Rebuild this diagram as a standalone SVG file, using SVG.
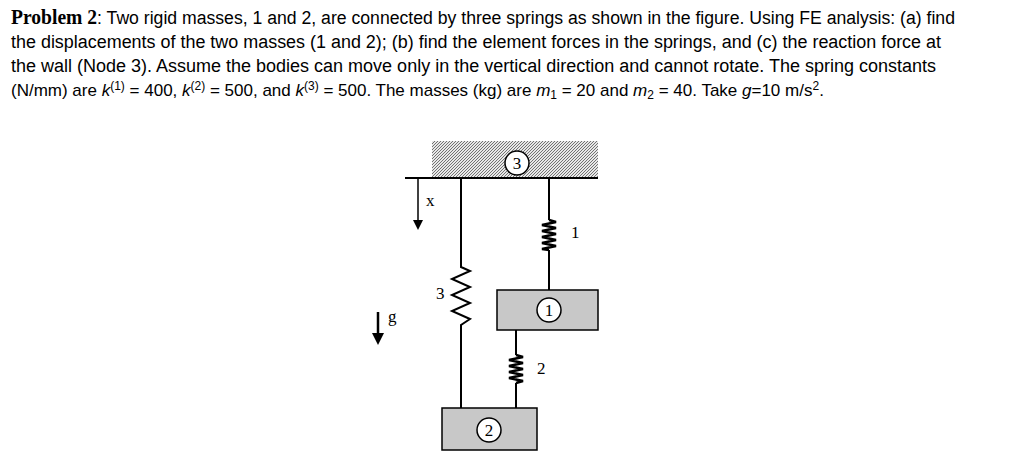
<svg xmlns="http://www.w3.org/2000/svg" width="1024" height="465" viewBox="0 0 1024 465">
<style>
.t{font-family:"Liberation Sans",Arial,sans-serif;font-size:18px;fill:#000}
.s{font-family:"Liberation Serif","Times New Roman",serif;font-size:17px;fill:#000}
.ln{stroke:#000;stroke-width:2;fill:none}
.coil{stroke:#000;stroke-width:2.6;fill:none}
.box{fill:#c8c8c8;stroke:#000;stroke-width:1.5}
.nc{fill:#fff;stroke:#000;stroke-width:1.5}
</style>
<defs>
<pattern id="h" width="3" height="3" patternUnits="userSpaceOnUse"><rect width="3" height="3" fill="#e8e8e8"/><path d="M0,3 L3,0" stroke="#555" stroke-width="0.8"/></pattern>
</defs>
<g id="text">
<text class="t" x="11" y="24" textLength="944" lengthAdjust="spacingAndGlyphs"><tspan style="font-family:'Liberation Serif',serif;font-weight:bold;font-size:20px">Problem 2</tspan>: Two rigid masses, 1 and 2, are connected by three springs as shown in the figure. Using FE analysis:  (a) find</text>
<text class="t" x="11" y="48" textLength="930" lengthAdjust="spacingAndGlyphs">the displacements of the two masses (1 and 2); (b) find the element forces in the springs, and (c) the reaction force at</text>
<text class="t" x="11" y="72" textLength="925" lengthAdjust="spacingAndGlyphs">the wall (Node 3). Assume the bodies can move only in the vertical direction and cannot rotate. The spring constants</text>
<text class="t" x="11" y="96" style="font-size:17px">(N/mm) are <tspan font-style="italic">k</tspan><tspan font-size="12" dy="-6">(1)</tspan><tspan dy="6"> = 400, </tspan><tspan font-style="italic">k</tspan><tspan font-size="12" dy="-6">(2)</tspan><tspan dy="6"> = 500, and </tspan><tspan font-style="italic">k</tspan><tspan font-size="12" dy="-6">(3)</tspan><tspan dy="6"> = 500. The masses (kg) are </tspan><tspan font-style="italic">m</tspan><tspan font-size="12" dy="3">1</tspan><tspan dy="-3"> = 20 and </tspan><tspan font-style="italic">m</tspan><tspan font-size="12" dy="3">2</tspan><tspan dy="-3"> = 40. Take </tspan><tspan font-style="italic">g</tspan>=10 m/s<tspan font-size="12" dy="-6">2</tspan><tspan dy="6">.</tspan></text>
</g>
<g id="wall">
<rect x="432" y="141" width="166" height="37" fill="url(#h)"/>
<line class="ln" x1="405" y1="178" x2="598" y2="178"/>
<circle class="nc" cx="517" cy="163" r="12"/><text class="s" x="517" y="169" text-anchor="middle">3</text>
</g>
<g id="mass1">
<rect class="box" x="497" y="290" width="101" height="40"/>
<circle class="nc" cx="549" cy="310" r="12"/><text class="s" x="549" y="316" text-anchor="middle">1</text>
</g>
<g id="mass2">
<rect class="box" x="442" y="408" width="95" height="42"/>
<circle class="nc" cx="489" cy="430" r="12"/><text class="s" x="489" y="436" text-anchor="middle">2</text>
</g>
<g id="connectors">
<path class="ln" d="M461,178 V267 L470,271 L452,279 L470,287 L452,295 L470,303 L452,311 L470,319 L461,325 V408"/>
<text class="s" x="436" y="299">3</text>
<path class="ln" d="M549,178 V220 M549,250 V290"/>
<path class="coil" d="M549,220 L556,222 L542,225 L556,228 L542,231 L556,234 L542,237 L556,240 L542,243 L556,246 L542,249 L549,250"/>
<text class="s" x="571" y="238">1</text>
<path class="ln" d="M516,330 V355 M516,383 V408"/>
<path class="coil" d="M516,355 L523,357 L509,360 L523,363 L509,366 L523,369 L509,372 L523,375 L509,378 L523,381 L516,383"/>
<text class="s" x="537" y="374">2</text>
<line x1="418" y1="178" x2="418" y2="222" stroke="#000" stroke-width="1.5"/>
<polygon points="413,220 423,220 418,230"/>
<text class="s" x="426" y="206">x</text>
<line x1="378" y1="312" x2="378" y2="336" stroke="#000" stroke-width="2.5"/>
<polygon points="372,333 384,333 378,345"/>
<text class="s" x="388" y="322">g</text>
</g>
</svg>
